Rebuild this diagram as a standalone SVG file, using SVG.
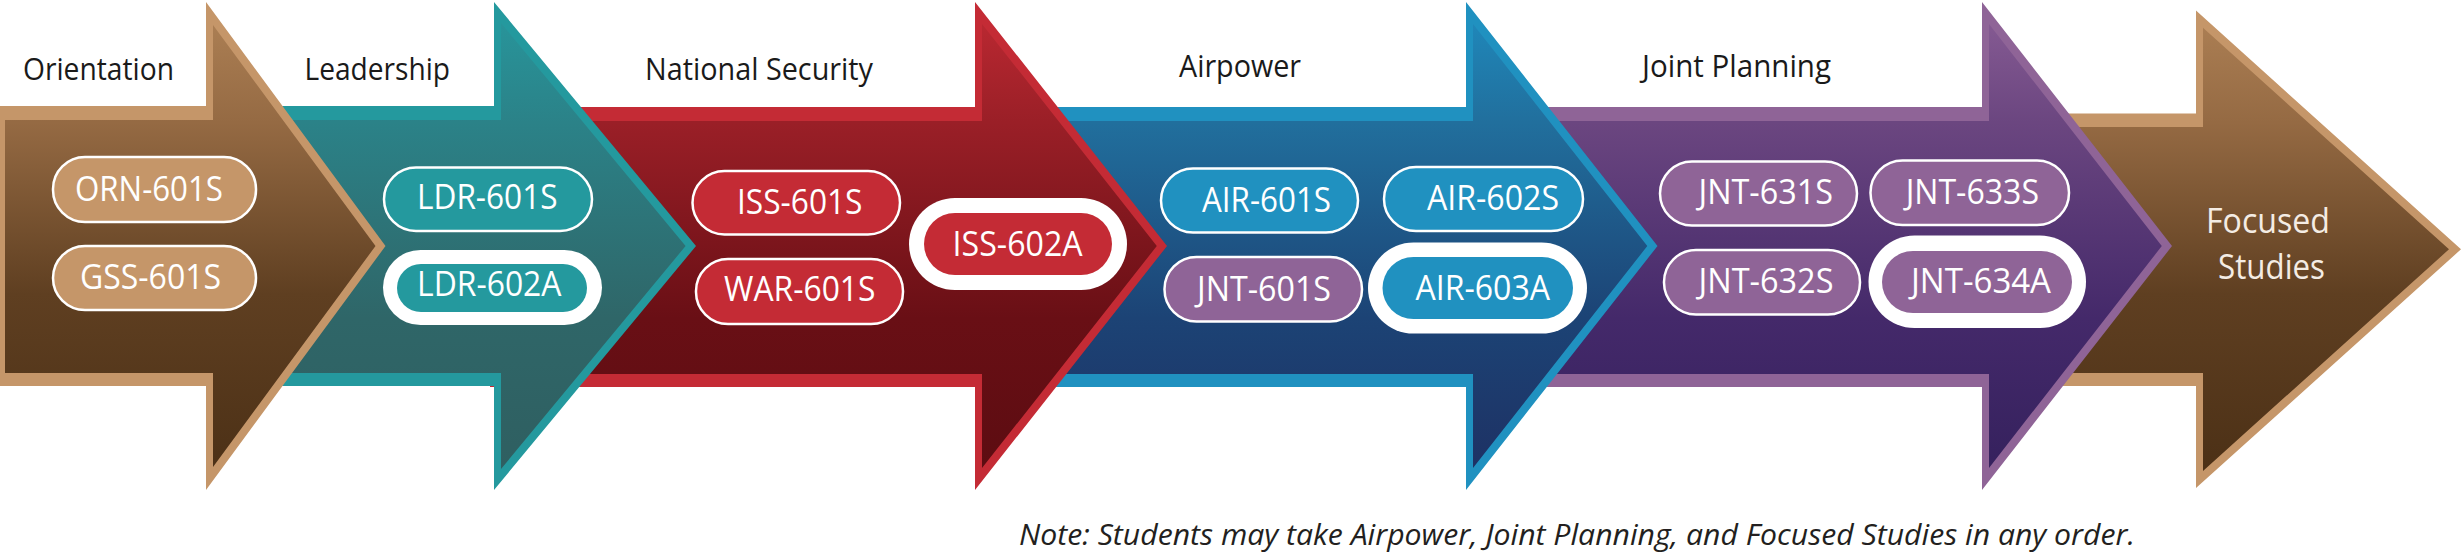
<svg xmlns="http://www.w3.org/2000/svg" width="2464" height="553" viewBox="0 0 2464 553">
<style>
.lbl{font-family:"Open Sans","Noto Sans",sans-serif;font-size:31px;fill:#1a1a1a}
.pt{font-family:"Open Sans","Noto Sans",sans-serif;font-size:35px;fill:#ffffff}
.fs{font-family:"Open Sans","Noto Sans",sans-serif;font-size:35px;fill:#f4ece4}
.note{font-family:"Open Sans","Noto Sans",sans-serif;font-size:29px;font-style:italic;fill:#231f20}
.pill{stroke:#ffffff;stroke-width:2.5}
.ring{fill:#ffffff}
.tan{fill:#c59669}.teal{fill:#24999e}.red{fill:#c42b35}.blue{fill:#2091c0}.purp{fill:#8f6497}
</style>
<defs>
<linearGradient id="gBrown" gradientUnits="userSpaceOnUse" x1="0" y1="0" x2="0" y2="490">
<stop offset="0" stop-color="#b08357"/><stop offset="0.25" stop-color="#956a43"/><stop offset="0.6" stop-color="#5f3f21"/><stop offset="1" stop-color="#4a2f15"/>
</linearGradient>
<linearGradient id="gTeal" gradientUnits="userSpaceOnUse" x1="0" y1="0" x2="0" y2="490">
<stop offset="0" stop-color="#27989e"/><stop offset="0.25" stop-color="#2b8288"/><stop offset="0.65" stop-color="#2f6668"/><stop offset="1" stop-color="#2f5e60"/>
</linearGradient>
<linearGradient id="gRed" gradientUnits="userSpaceOnUse" x1="0" y1="0" x2="0" y2="490">
<stop offset="0" stop-color="#c02a33"/><stop offset="0.25" stop-color="#9a1f27"/><stop offset="0.65" stop-color="#690f15"/><stop offset="1" stop-color="#5b0c11"/>
</linearGradient>
<linearGradient id="gBlue" gradientUnits="userSpaceOnUse" x1="0" y1="0" x2="0" y2="490">
<stop offset="0" stop-color="#1f8cbf"/><stop offset="0.25" stop-color="#216f9d"/><stop offset="0.65" stop-color="#1c4375"/><stop offset="1" stop-color="#1e2f62"/>
</linearGradient>
<linearGradient id="gPurp" gradientUnits="userSpaceOnUse" x1="0" y1="0" x2="0" y2="490">
<stop offset="0" stop-color="#8a5e96"/><stop offset="0.25" stop-color="#6b4680"/><stop offset="0.65" stop-color="#44296a"/><stop offset="1" stop-color="#33205c"/>
</linearGradient>
</defs>
<rect width="2464" height="553" fill="#ffffff"/>

<g id="connectors"></g>

<g id="stage-focused">
<polygon fill="#c59669" points="1975,113.5 2196,113.5 2196,10.6 2461,249.3 2196,488 2196,386 1975,386"/>
<polygon fill="url(#gBrown)" points="1975,127 2203,127 2203,27.7 2449,249.3 2203,470.9 2203,373 1975,373"/>
<text class="fs" x="2206" y="233" textLength="124" lengthAdjust="spacingAndGlyphs">Focused</text>
<text class="fs" x="2218" y="279" textLength="107" lengthAdjust="spacingAndGlyphs">Studies</text>
</g>

<g id="stage-joint">
<polygon fill="#8f6497" points="1460,107 1982,107 1982,2 2172,246 1982,490 1982,387 1460,387"/>
<polygon fill="url(#gPurp)" points="1460,121 1989,121 1989,24.1 2161.8,246 1989,467.9 1989,374 1460,374"/>
<text class="lbl" x="1642" y="77" textLength="189" lengthAdjust="spacingAndGlyphs">Joint Planning</text>
<g id="jnt-631s"><rect class="pill purp" x="1660" y="161.5" width="197" height="64" rx="32"/><text class="pt" x="1698.5" y="204" textLength="134.5" lengthAdjust="spacingAndGlyphs">JNT-631S</text></g>
<g id="jnt-633s"><rect class="pill purp" x="1870.5" y="160.5" width="198.5" height="64.5" rx="32"/><text class="pt" x="1905.7" y="204" textLength="133.3" lengthAdjust="spacingAndGlyphs">JNT-633S</text></g>
<g id="jnt-632s"><rect class="pill purp" x="1664" y="250" width="196" height="64.5" rx="32"/><text class="pt" x="1698.5" y="293" textLength="135" lengthAdjust="spacingAndGlyphs">JNT-632S</text></g>
<g id="jnt-634a"><rect class="ring" x="1868.5" y="235.5" width="217.5" height="92.5" rx="46"/><rect class="purp" x="1882" y="251" width="190" height="62" rx="31"/><text class="pt" x="1911" y="293" textLength="140" lengthAdjust="spacingAndGlyphs">JNT-634A</text></g>
</g>

<g id="stage-airpower">
<polygon fill="#2091c0" points="970,107 1466,107 1466,2 1657.5,246 1466,490 1466,387 970,387"/>
<polygon fill="url(#gBlue)" points="970,121 1473,121 1473,23.9 1647.3,246 1473,468.1 1473,374 970,374"/>
<text class="lbl" x="1179" y="77" textLength="122" lengthAdjust="spacingAndGlyphs">Airpower</text>
<g id="air-601s"><rect class="pill blue" x="1161" y="168.5" width="197" height="64" rx="32"/><text class="pt" x="1202" y="212" textLength="129" lengthAdjust="spacingAndGlyphs">AIR-601S</text></g>
<g id="air-602s"><rect class="pill blue" x="1384" y="167" width="199" height="64" rx="32"/><text class="pt" x="1427" y="210" textLength="132" lengthAdjust="spacingAndGlyphs">AIR-602S</text></g>
<g id="jnt-601s"><rect class="pill purp" x="1164.5" y="257" width="197.5" height="64.5" rx="32"/><text class="pt" x="1197" y="300.5" textLength="134" lengthAdjust="spacingAndGlyphs">JNT-601S</text></g>
<g id="air-603a"><rect class="ring" x="1368" y="242.6" width="219" height="91" rx="45.5"/><rect class="blue" x="1382.5" y="257" width="190.5" height="62" rx="31"/><text class="pt" x="1415.5" y="300" textLength="134.5" lengthAdjust="spacingAndGlyphs">AIR-603A</text></g>
</g>

<g id="stage-national-security">
<polygon fill="#c42b35" points="490,107 975,107 975,2 1167,246 975,490 975,387 490,387"/>
<polygon fill="url(#gRed)" points="490,121 982,121 982,23.9 1156.8,246 982,468.1 982,374 490,374"/>
<text class="lbl" x="645" y="80" textLength="228" lengthAdjust="spacingAndGlyphs">National Security</text>
<g id="iss-601s"><rect class="pill red" x="692.5" y="171" width="207.5" height="63.5" rx="32"/><text class="pt" x="737" y="214" textLength="125.5" lengthAdjust="spacingAndGlyphs">ISS-601S</text></g>
<g id="war-601s"><rect class="pill red" x="696" y="259" width="207" height="65" rx="32"/><text class="pt" x="724" y="301" textLength="151.5" lengthAdjust="spacingAndGlyphs">WAR-601S</text></g>
<g id="iss-602a"><rect class="ring" x="909" y="198" width="218" height="92" rx="46"/><rect class="red" x="924" y="213" width="188" height="62" rx="31"/><text class="pt" x="952.6" y="256" textLength="130" lengthAdjust="spacingAndGlyphs">ISS-602A</text></g>
</g>

<g id="stage-leadership">
<polygon fill="#24999e" points="200,106 494,106 494,2 696,246 494,490 494,386 200,386"/>
<polygon fill="url(#gTeal)" points="200,120 501,120 501,23 685.6,246 501,469 501,373 200,373"/>
<text class="lbl" x="304.5" y="80" textLength="145.5" lengthAdjust="spacingAndGlyphs">Leadership</text>
<g id="ldr-601s"><rect class="pill teal" x="384" y="167.5" width="208" height="63.5" rx="32"/><text class="pt" x="417" y="209" textLength="140.5" lengthAdjust="spacingAndGlyphs">LDR-601S</text></g>
<g id="ldr-602a"><rect class="ring" x="383" y="250" width="219" height="75" rx="37.5"/><rect class="teal" x="397" y="264" width="190" height="48" rx="24"/><text class="pt" x="417" y="296" textLength="144.5" lengthAdjust="spacingAndGlyphs">LDR-602A</text></g>
</g>

<g id="stage-orientation">
<polygon fill="#c59669" points="0,106 206,106 206,2 385.5,246 206,490 206,386 0,386"/>
<polygon fill="url(#gBrown)" points="5,120 213,120 213,25 375.5,246 213,467 213,373 5,373"/>
<text class="lbl" x="23" y="80" textLength="151" lengthAdjust="spacingAndGlyphs">Orientation</text>
<g id="orn-601s"><rect class="pill tan" x="53" y="157" width="203" height="65" rx="32"/><text class="pt" x="75" y="201" textLength="148" lengthAdjust="spacingAndGlyphs">ORN-601S</text></g>
<g id="gss-601s"><rect class="pill tan" x="53" y="246" width="203" height="64" rx="32"/><text class="pt" x="80" y="289" textLength="141" lengthAdjust="spacingAndGlyphs">GSS-601S</text></g>
</g>

<g id="note">
<text class="note" x="1019" y="545" textLength="1116" lengthAdjust="spacingAndGlyphs">Note: Students may take Airpower, Joint Planning, and Focused Studies in any order.</text>
</g>
</svg>
